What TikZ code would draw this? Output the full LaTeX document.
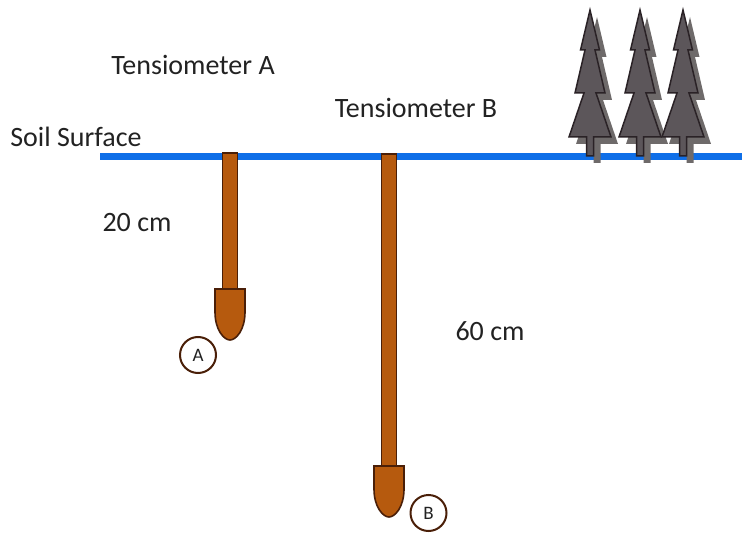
\documentclass[tikz,border=0pt]{standalone}
\usepackage{fontspec}
\setmainfont{Carlito}
\definecolor{soil}{HTML}{0F6FE8}
\definecolor{probe}{HTML}{B65A0E}
\definecolor{probeline}{HTML}{4A1F08}
\definecolor{treefill}{HTML}{5C565A}
\definecolor{treeline}{HTML}{2A2226}
\definecolor{treeshadow}{HTML}{6E6A6A}
\definecolor{txt}{HTML}{222222}
\tikzset{
  label text/.style={font=\fontsize{28}{32}\selectfont,text=txt,inner sep=0pt},
  tube/.style={draw=probeline,fill=probe,line width=1.6pt},
  tag/.style={circle,draw=probeline,line width=2pt,fill=white,minimum size=36pt,inner sep=0pt,font=\fontsize{19}{22}\selectfont,text=txt},
  pics/fir/.style={code={
    \path[pic actions] (0,4) -- (9.5,44) -- (5,44) -- (15,87) -- (6,87) -- (21,131) -- (3.5,131) -- (3.5,150) -- (-3.5,150) -- (-3.5,131) -- (-21,131) -- (-6,87) -- (-15,87) -- (-5,44) -- (-9.5,44) -- cycle;
  }}
}
\begin{document}
\begin{tikzpicture}[x=1pt,y=-1pt]
\useasboundingbox (0,0) rectangle (746,537);
% soil line
\fill[soil] (100,153) rectangle (742,160);
% trees: shadows then fronts
\foreach \tx in {597,647,690}{
  \pic[fill=treeshadow] at (\tx,13) {fir};
}
\foreach \tx in {590,640,683}{
  \pic[fill=treefill,draw=treeline,line width=1.5pt,line join=miter] at (\tx,6) {fir};
}
% probes
\draw[tube] (222.5,153) rectangle (237.5,290);
\draw[tube] (215,289) -- (245,289) -- (245,312) .. controls (245,330) and (236,340) .. (230,340) .. controls (224,340) and (215,330) .. (215,312) -- cycle;
\draw[tube] (381.5,154) rectangle (396.5,467);
\draw[tube] (374,466) -- (404,466) -- (404,489) .. controls (404,507) and (395,517) .. (389,517) .. controls (383,517) and (374,507) .. (374,489) -- cycle;
% tags
\node[tag] (tagA) at (198,355) {A};
\node[tag] (tagB) at (428.5,513) {B};
% labels
\node[label text] (tensA) at (193,65) {Tensiometer A};
\node[label text] (tensB) at (416,108) {Tensiometer B};
\node[label text] (soil) at (76,137) {Soil Surface};
\node[label text] (d20) at (137,223) {20 cm};
\node[label text] (d60) at (490,331) {60 cm};
\end{tikzpicture}
\end{document}
